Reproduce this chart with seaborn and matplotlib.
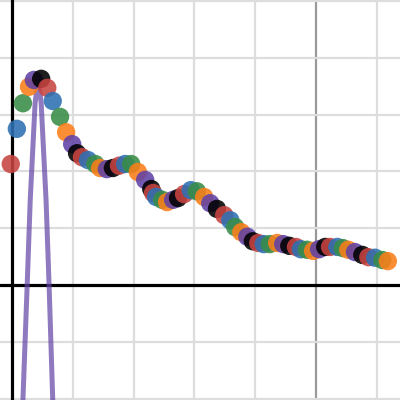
import numpy as np
import pandas as pd
import seaborn as sns
import matplotlib
matplotlib.use("Agg")
import matplotlib.pyplot as plt

# points (graph units)
pt_x = [-0.02, 0.08, 0.18, 0.28, 0.36, 0.48, 0.58, 0.67, 0.79, 0.89,
        0.99, 1.07, 1.15, 1.25, 1.37, 1.45, 1.56, 1.66, 1.76, 1.86,
        1.96, 2.07, 2.19, 2.29, 2.32, 2.37, 2.47, 2.55, 2.65, 2.73,
        2.83, 2.94, 3.04, 3.16, 3.26, 3.37, 3.49, 3.59, 3.67, 3.77,
        3.87, 3.96, 4.05, 4.14, 4.24, 4.36, 4.46, 4.56, 4.67, 4.75,
        4.85, 4.95, 5.05, 5.15, 5.23, 5.35, 5.44, 5.53, 5.64, 5.76,
        5.86, 5.97, 6.09, 6.18]
pt_y = [2.13, 2.75, 3.20, 3.49, 3.61, 3.63, 3.47, 3.24, 2.96, 2.69,
        2.48, 2.32, 2.25, 2.20, 2.13, 2.06, 2.04, 2.06, 2.10, 2.13,
        2.13, 1.99, 1.85, 1.69, 1.62, 1.55, 1.50, 1.46, 1.50, 1.53,
        1.60, 1.67, 1.65, 1.55, 1.44, 1.34, 1.23, 1.14, 1.02, 0.93,
        0.85, 0.77, 0.74, 0.72, 0.72, 0.74, 0.72, 0.69, 0.67, 0.63,
        0.62, 0.60, 0.63, 0.67, 0.67, 0.67, 0.65, 0.62, 0.58, 0.53,
        0.49, 0.48, 0.44, 0.42]

# purple curve
curve_x = [0.17, 0.18, 0.25, 0.30, 0.38, 0.43, 0.48, 0.56, 0.61, 0.67, 0.68]
curve_y = [-2.3, -2.02, 0.0, 1.50, 3.20, 3.64, 3.20, 1.50, 0.0, -2.02, -2.3]

colors = ["#c74440", "#2d70b3", "#388c46", "#fa7e19", "#6042a6", "#000000"]

df = pd.DataFrame({"x": pt_x, "y": pt_y})
df["c"] = [str(i % 6) for i in range(len(df))]
curve = pd.DataFrame({"x": curve_x, "y": curve_y})

sns.set_style("white")
fig = plt.figure(figsize=(4, 4), dpi=100)
ax = fig.add_axes([0, 0, 1, 1])

for gx in range(1, 7):
    ax.axvline(gx, color="#999999" if gx == 5 else "#dddddd", lw=1.6, zorder=0)
for gy in range(-2, 6):
    if gy != 0:
        ax.axhline(gy, color="#dddddd", lw=1.6, zorder=0)
ax.axvline(0, color="black", lw=2.3, zorder=1)
ax.axhline(0, color="black", lw=2.3, zorder=1)

sns.lineplot(data=curve, x="x", y="y", sort=False, estimator=None, ax=ax,
             color="#6042a6", alpha=0.7, lw=3.6, zorder=2)
sns.scatterplot(data=df, x="x", y="y", hue="c", palette=dict(zip([str(i) for i in range(6)], colors)),
                s=175, linewidth=0, alpha=0.88, legend=False, ax=ax, zorder=3)

ax.set_xlim(-0.197, 6.38)
ax.set_ylim(-2.025, 5.018)
ax.set_xticks([])
ax.set_yticks([])
ax.set_xlabel("")
ax.set_ylabel("")
for s in ax.spines.values():
    s.set_visible(False)

fig.savefig("out.png", dpi=100)
